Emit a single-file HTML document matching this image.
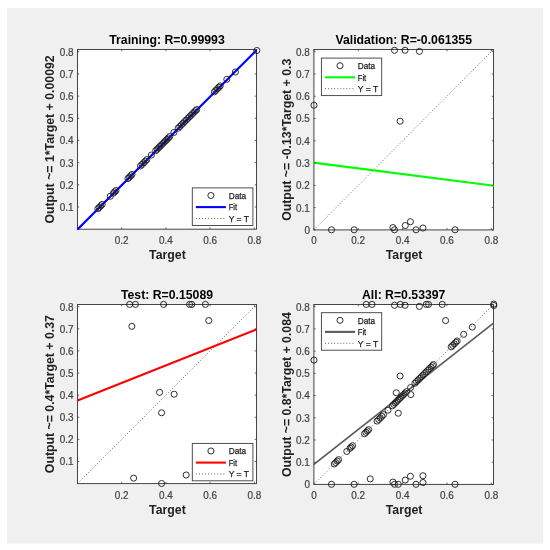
<!DOCTYPE html><html><head><meta charset="utf-8"><title>Regression</title><style>html,body{margin:0;padding:0;background:#fff}svg{display:block}text{font-family:"Liberation Sans",sans-serif}</style></head><body>
<svg width="550" height="550" viewBox="0 0 550 550">
<rect width="550" height="550" fill="#ffffff"/>
<rect x="7" y="8" width="536.2" height="535.7" fill="#f0f0f0"/>
<g id="train">
<rect x="77.5" y="49.5" width="179" height="179.7" fill="#fff"/>
<clipPath id="c0"><rect x="76.9" y="48.9" width="180.2" height="180.9"/></clipPath>
<line x1="77.5" y1="229.2" x2="256.5" y2="49.5" stroke="#666" stroke-width="1.0" stroke-dasharray="1.0 2.05"/>
<rect x="77.5" y="49.5" width="179" height="179.7" fill="none" stroke="#3c3c3c" stroke-width="0.95"/>
<line clip-path="url(#c0)" x1="76.9" y1="230.1" x2="257.1" y2="49.7" stroke="#0000ff" stroke-width="2.1"/>
<path d="M77.5 207.01h1.8M256.5 207.01h-1.8M77.5 184.83h1.8M256.5 184.83h-1.8M77.5 162.64h1.8M256.5 162.64h-1.8M77.5 140.46h1.8M256.5 140.46h-1.8M77.5 118.27h1.8M256.5 118.27h-1.8M77.5 96.09h1.8M256.5 96.09h-1.8M77.5 73.9h1.8M256.5 73.9h-1.8M77.5 51.72h1.8M256.5 51.72h-1.8M121.7 229.2v-1.8M121.7 49.5v1.8M165.9 229.2v-1.8M165.9 49.5v1.8M210.09 229.2v-1.8M210.09 49.5v1.8M254.29 229.2v-1.8M254.29 49.5v1.8" stroke="#3c3c3c" stroke-width="0.8" fill="none"/>
<g font-size="10.2" fill="#404040" stroke="#404040" stroke-width="0.2">
<text x="73.5" y="210.91" text-anchor="end" textLength="13.8" lengthAdjust="spacingAndGlyphs">0.1</text>
<text x="73.5" y="188.73" text-anchor="end" textLength="13.8" lengthAdjust="spacingAndGlyphs">0.2</text>
<text x="73.5" y="166.54" text-anchor="end" textLength="13.8" lengthAdjust="spacingAndGlyphs">0.3</text>
<text x="73.5" y="144.36" text-anchor="end" textLength="13.8" lengthAdjust="spacingAndGlyphs">0.4</text>
<text x="73.5" y="122.17" text-anchor="end" textLength="13.8" lengthAdjust="spacingAndGlyphs">0.5</text>
<text x="73.5" y="99.99" text-anchor="end" textLength="13.8" lengthAdjust="spacingAndGlyphs">0.6</text>
<text x="73.5" y="77.8" text-anchor="end" textLength="13.8" lengthAdjust="spacingAndGlyphs">0.7</text>
<text x="73.5" y="55.62" text-anchor="end" textLength="13.8" lengthAdjust="spacingAndGlyphs">0.8</text>
<text x="121.7" y="243.6" text-anchor="middle" textLength="13.8" lengthAdjust="spacingAndGlyphs">0.2</text>
<text x="165.9" y="243.6" text-anchor="middle" textLength="13.8" lengthAdjust="spacingAndGlyphs">0.4</text>
<text x="210.09" y="243.6" text-anchor="middle" textLength="13.8" lengthAdjust="spacingAndGlyphs">0.6</text>
<text x="254.29" y="243.6" text-anchor="middle" textLength="13.8" lengthAdjust="spacingAndGlyphs">0.8</text>
</g>
<g fill="none" stroke="#1a1a1a" stroke-width="0.9">
<circle cx="97.83" cy="208.79" r="3.05"/>
<circle cx="99.23" cy="207.39" r="3.05"/>
<circle cx="100.72" cy="205.89" r="3.05"/>
<circle cx="102.12" cy="204.49" r="3.05"/>
<circle cx="110.29" cy="196.28" r="3.05"/>
<circle cx="113.38" cy="193.18" r="3.05"/>
<circle cx="114.68" cy="191.88" r="3.05"/>
<circle cx="115.97" cy="190.58" r="3.05"/>
<circle cx="127.93" cy="178.57" r="3.05"/>
<circle cx="129.33" cy="177.17" r="3.05"/>
<circle cx="130.72" cy="175.77" r="3.05"/>
<circle cx="132.02" cy="174.47" r="3.05"/>
<circle cx="140.49" cy="165.96" r="3.05"/>
<circle cx="142.08" cy="164.36" r="3.05"/>
<circle cx="143.68" cy="162.76" r="3.05"/>
<circle cx="145.27" cy="161.16" r="3.05"/>
<circle cx="146.87" cy="159.56" r="3.05"/>
<circle cx="151.35" cy="155.06" r="3.05"/>
<circle cx="155.74" cy="150.66" r="3.05"/>
<circle cx="157.14" cy="149.25" r="3.05"/>
<circle cx="158.55" cy="147.83" r="3.05"/>
<circle cx="159.95" cy="146.42" r="3.05"/>
<circle cx="161.36" cy="145.01" r="3.05"/>
<circle cx="162.76" cy="143.6" r="3.05"/>
<circle cx="164.17" cy="142.19" r="3.05"/>
<circle cx="165.57" cy="140.78" r="3.05"/>
<circle cx="166.98" cy="139.37" r="3.05"/>
<circle cx="168.39" cy="137.96" r="3.05"/>
<circle cx="169.79" cy="136.55" r="3.05"/>
<circle cx="173.88" cy="132.45" r="3.05"/>
<circle cx="178.16" cy="128.14" r="3.05"/>
<circle cx="179.76" cy="126.54" r="3.05"/>
<circle cx="181.45" cy="124.84" r="3.05"/>
<circle cx="183.05" cy="123.24" r="3.05"/>
<circle cx="184.64" cy="121.64" r="3.05"/>
<circle cx="186.24" cy="120.04" r="3.05"/>
<circle cx="187.83" cy="118.44" r="3.05"/>
<circle cx="189.42" cy="116.84" r="3.05"/>
<circle cx="191.02" cy="115.24" r="3.05"/>
<circle cx="192.61" cy="113.64" r="3.05"/>
<circle cx="194.21" cy="112.03" r="3.05"/>
<circle cx="195.6" cy="110.63" r="3.05"/>
<circle cx="196.7" cy="109.53" r="3.05"/>
<circle cx="214.34" cy="91.82" r="3.05"/>
<circle cx="215.84" cy="90.32" r="3.05"/>
<circle cx="217.43" cy="88.72" r="3.05"/>
<circle cx="218.93" cy="87.22" r="3.05"/>
<circle cx="220.22" cy="85.92" r="3.05"/>
<circle cx="226.8" cy="79.32" r="3.05"/>
<circle cx="235.37" cy="72.04" r="3.05"/>
<circle cx="256.83" cy="50.5" r="3.05"/>
</g>
<text x="167" y="44.4" text-anchor="middle" font-size="12.25" font-weight="bold" fill="#000">Training: R=0.99993</text>
<text x="167.4" y="259.3" text-anchor="middle" font-size="12.3" font-weight="bold" fill="#222">Target</text>
<text transform="translate(54.2 139.45) rotate(-90)" text-anchor="middle" font-size="12.3" font-weight="bold" fill="#222">Output ~= 1*Target + 0.00092</text>
<rect x="192.3" y="187.9" width="60.6" height="37.6" fill="#fff" stroke="#3c3c3c" stroke-width="0.9"/>
<circle cx="210.9" cy="195.5" r="3.05" fill="none" stroke="#1a1a1a" stroke-width="0.9"/>
<line x1="195.9" y1="207.1" x2="225.9" y2="207.1" stroke="#0000ff" stroke-width="2.1"/>
<line x1="195.9" y1="218.5" x2="225.9" y2="218.5" stroke="#666" stroke-width="1.0" stroke-dasharray="1.0 2.05"/>
<g font-size="8.9" fill="#1c1c1c" stroke="#1c1c1c" stroke-width="0.25"><text x="228.7" y="198.7" textLength="17.4" lengthAdjust="spacingAndGlyphs">Data</text><text x="228.7" y="210.3" textLength="8.4" lengthAdjust="spacingAndGlyphs">Fit</text><text x="228.7" y="221.7" textLength="20.4" lengthAdjust="spacingAndGlyphs">Y = T</text></g>
</g>
<g id="val">
<rect x="313.9" y="49.5" width="179.6" height="180.4" fill="#fff"/>
<clipPath id="c1"><rect x="313.3" y="48.9" width="180.8" height="181.6"/></clipPath>
<line x1="313.9" y1="229.9" x2="493.5" y2="49.5" stroke="#666" stroke-width="1.0" stroke-dasharray="1.0 2.05"/>
<rect x="313.9" y="49.5" width="179.6" height="180.4" fill="none" stroke="#3c3c3c" stroke-width="0.95"/>
<line clip-path="url(#c1)" x1="313.3" y1="162.62" x2="494.1" y2="185.78" stroke="#00ff00" stroke-width="2.1"/>
<path d="M313.9 229.9h1.8M493.5 229.9h-1.8M313.9 207.63h1.8M493.5 207.63h-1.8M313.9 185.36h1.8M493.5 185.36h-1.8M313.9 163.09h1.8M493.5 163.09h-1.8M313.9 140.81h1.8M493.5 140.81h-1.8M313.9 118.54h1.8M493.5 118.54h-1.8M313.9 96.27h1.8M493.5 96.27h-1.8M313.9 74h1.8M493.5 74h-1.8M313.9 51.73h1.8M493.5 51.73h-1.8M313.9 229.9v-1.8M313.9 49.5v1.8M358.25 229.9v-1.8M358.25 49.5v1.8M402.59 229.9v-1.8M402.59 49.5v1.8M446.94 229.9v-1.8M446.94 49.5v1.8M491.28 229.9v-1.8M491.28 49.5v1.8" stroke="#3c3c3c" stroke-width="0.8" fill="none"/>
<g font-size="10.2" fill="#404040" stroke="#404040" stroke-width="0.2">
<text x="309.9" y="233.8" text-anchor="end" textLength="5.5" lengthAdjust="spacingAndGlyphs">0</text>
<text x="309.9" y="211.53" text-anchor="end" textLength="13.8" lengthAdjust="spacingAndGlyphs">0.1</text>
<text x="309.9" y="189.26" text-anchor="end" textLength="13.8" lengthAdjust="spacingAndGlyphs">0.2</text>
<text x="309.9" y="166.99" text-anchor="end" textLength="13.8" lengthAdjust="spacingAndGlyphs">0.3</text>
<text x="309.9" y="144.71" text-anchor="end" textLength="13.8" lengthAdjust="spacingAndGlyphs">0.4</text>
<text x="309.9" y="122.44" text-anchor="end" textLength="13.8" lengthAdjust="spacingAndGlyphs">0.5</text>
<text x="309.9" y="100.17" text-anchor="end" textLength="13.8" lengthAdjust="spacingAndGlyphs">0.6</text>
<text x="309.9" y="77.9" text-anchor="end" textLength="13.8" lengthAdjust="spacingAndGlyphs">0.7</text>
<text x="309.9" y="55.63" text-anchor="end" textLength="13.8" lengthAdjust="spacingAndGlyphs">0.8</text>
<text x="313.9" y="243.6" text-anchor="middle" textLength="5.5" lengthAdjust="spacingAndGlyphs">0</text>
<text x="358.25" y="243.6" text-anchor="middle" textLength="13.8" lengthAdjust="spacingAndGlyphs">0.2</text>
<text x="402.59" y="243.6" text-anchor="middle" textLength="13.8" lengthAdjust="spacingAndGlyphs">0.4</text>
<text x="446.94" y="243.6" text-anchor="middle" textLength="13.8" lengthAdjust="spacingAndGlyphs">0.6</text>
<text x="491.28" y="243.6" text-anchor="middle" textLength="13.8" lengthAdjust="spacingAndGlyphs">0.8</text>
</g>
<g fill="none" stroke="#1a1a1a" stroke-width="0.9">
<circle cx="314" cy="105.27" r="3.05"/>
<circle cx="394.51" cy="50.3" r="3.05"/>
<circle cx="405.05" cy="50.3" r="3.05"/>
<circle cx="419.4" cy="51.42" r="3.05"/>
<circle cx="400.11" cy="121.2" r="3.05"/>
<circle cx="331.49" cy="229.8" r="3.05"/>
<circle cx="354.14" cy="229.8" r="3.05"/>
<circle cx="392.94" cy="227.56" r="3.05"/>
<circle cx="394.51" cy="229.8" r="3.05"/>
<circle cx="405.27" cy="225.54" r="3.05"/>
<circle cx="410.43" cy="221.72" r="3.05"/>
<circle cx="416.03" cy="229.8" r="3.05"/>
<circle cx="422.99" cy="228.01" r="3.05"/>
<circle cx="455.05" cy="229.8" r="3.05"/>
</g>
<text x="403.7" y="44.4" text-anchor="middle" font-size="12.25" font-weight="bold" fill="#000">Validation: R=-0.061355</text>
<text x="404.1" y="259.3" text-anchor="middle" font-size="12.3" font-weight="bold" fill="#222">Target</text>
<text transform="translate(290.6 139.8) rotate(-90)" text-anchor="middle" font-size="12.3" font-weight="bold" fill="#222">Output ~= -0.13*Target + 0.3</text>
<rect x="321.4" y="58.1" width="60.3" height="37.5" fill="#fff" stroke="#3c3c3c" stroke-width="0.9"/>
<circle cx="340" cy="65.7" r="3.05" fill="none" stroke="#1a1a1a" stroke-width="0.9"/>
<line x1="325" y1="77.3" x2="355" y2="77.3" stroke="#00ff00" stroke-width="2.1"/>
<line x1="325" y1="88.7" x2="355" y2="88.7" stroke="#666" stroke-width="1.0" stroke-dasharray="1.0 2.05"/>
<g font-size="8.9" fill="#1c1c1c" stroke="#1c1c1c" stroke-width="0.25"><text x="357.8" y="68.9" textLength="17.4" lengthAdjust="spacingAndGlyphs">Data</text><text x="357.8" y="80.5" textLength="8.4" lengthAdjust="spacingAndGlyphs">Fit</text><text x="357.8" y="91.9" textLength="20.4" lengthAdjust="spacingAndGlyphs">Y = T</text></g>
</g>
<g id="test">
<rect x="77.5" y="304.5" width="179" height="179.1" fill="#fff"/>
<clipPath id="c2"><rect x="76.9" y="303.9" width="180.2" height="180.3"/></clipPath>
<line x1="77.5" y1="483.6" x2="256.5" y2="304.5" stroke="#666" stroke-width="1.0" stroke-dasharray="1.0 2.05"/>
<rect x="77.5" y="304.5" width="179" height="179.1" fill="none" stroke="#3c3c3c" stroke-width="0.95"/>
<line clip-path="url(#c2)" x1="76.9" y1="400.74" x2="257.1" y2="329.16" stroke="#ff0000" stroke-width="2.1"/>
<path d="M77.5 461.49h1.8M256.5 461.49h-1.8M77.5 439.38h1.8M256.5 439.38h-1.8M77.5 417.27h1.8M256.5 417.27h-1.8M77.5 395.16h1.8M256.5 395.16h-1.8M77.5 373.04h1.8M256.5 373.04h-1.8M77.5 350.93h1.8M256.5 350.93h-1.8M77.5 328.82h1.8M256.5 328.82h-1.8M77.5 306.71h1.8M256.5 306.71h-1.8M121.7 483.6v-1.8M121.7 304.5v1.8M165.9 483.6v-1.8M165.9 304.5v1.8M210.09 483.6v-1.8M210.09 304.5v1.8M254.29 483.6v-1.8M254.29 304.5v1.8" stroke="#3c3c3c" stroke-width="0.8" fill="none"/>
<g font-size="10.2" fill="#404040" stroke="#404040" stroke-width="0.2">
<text x="73.5" y="465.39" text-anchor="end" textLength="13.8" lengthAdjust="spacingAndGlyphs">0.1</text>
<text x="73.5" y="443.28" text-anchor="end" textLength="13.8" lengthAdjust="spacingAndGlyphs">0.2</text>
<text x="73.5" y="421.17" text-anchor="end" textLength="13.8" lengthAdjust="spacingAndGlyphs">0.3</text>
<text x="73.5" y="399.06" text-anchor="end" textLength="13.8" lengthAdjust="spacingAndGlyphs">0.4</text>
<text x="73.5" y="376.94" text-anchor="end" textLength="13.8" lengthAdjust="spacingAndGlyphs">0.5</text>
<text x="73.5" y="354.83" text-anchor="end" textLength="13.8" lengthAdjust="spacingAndGlyphs">0.6</text>
<text x="73.5" y="332.72" text-anchor="end" textLength="13.8" lengthAdjust="spacingAndGlyphs">0.7</text>
<text x="73.5" y="310.61" text-anchor="end" textLength="13.8" lengthAdjust="spacingAndGlyphs">0.8</text>
<text x="121.7" y="498.6" text-anchor="middle" textLength="13.8" lengthAdjust="spacingAndGlyphs">0.2</text>
<text x="165.9" y="498.6" text-anchor="middle" textLength="13.8" lengthAdjust="spacingAndGlyphs">0.4</text>
<text x="210.09" y="498.6" text-anchor="middle" textLength="13.8" lengthAdjust="spacingAndGlyphs">0.6</text>
<text x="254.29" y="498.6" text-anchor="middle" textLength="13.8" lengthAdjust="spacingAndGlyphs">0.8</text>
</g>
<g fill="none" stroke="#1a1a1a" stroke-width="0.9">
<circle cx="129.63" cy="304.4" r="3.05"/>
<circle cx="135.44" cy="304.4" r="3.05"/>
<circle cx="163.6" cy="304.4" r="3.05"/>
<circle cx="189.53" cy="304.4" r="3.05"/>
<circle cx="191.76" cy="304.4" r="3.05"/>
<circle cx="205.39" cy="304.4" r="3.05"/>
<circle cx="131.86" cy="326.34" r="3.05"/>
<circle cx="208.75" cy="320.52" r="3.05"/>
<circle cx="159.58" cy="392.38" r="3.05"/>
<circle cx="174.11" cy="394.17" r="3.05"/>
<circle cx="161.59" cy="412.76" r="3.05"/>
<circle cx="133.65" cy="478.13" r="3.05"/>
<circle cx="161.59" cy="483.5" r="3.05"/>
<circle cx="186.17" cy="474.99" r="3.05"/>
</g>
<text x="167" y="299.4" text-anchor="middle" font-size="12.25" font-weight="bold" fill="#000">Test: R=0.15089</text>
<text x="167.4" y="514.3" text-anchor="middle" font-size="12.3" font-weight="bold" fill="#222">Target</text>
<text transform="translate(54.2 394.15) rotate(-90)" text-anchor="middle" font-size="12.3" font-weight="bold" fill="#222">Output ~= 0.4*Target + 0.37</text>
<rect x="192.3" y="443.4" width="60.6" height="37.4" fill="#fff" stroke="#3c3c3c" stroke-width="0.9"/>
<circle cx="210.9" cy="451" r="3.05" fill="none" stroke="#1a1a1a" stroke-width="0.9"/>
<line x1="195.9" y1="462.6" x2="225.9" y2="462.6" stroke="#ff0000" stroke-width="2.1"/>
<line x1="195.9" y1="474" x2="225.9" y2="474" stroke="#666" stroke-width="1.0" stroke-dasharray="1.0 2.05"/>
<g font-size="8.9" fill="#1c1c1c" stroke="#1c1c1c" stroke-width="0.25"><text x="228.7" y="454.2" textLength="17.4" lengthAdjust="spacingAndGlyphs">Data</text><text x="228.7" y="465.8" textLength="8.4" lengthAdjust="spacingAndGlyphs">Fit</text><text x="228.7" y="477.2" textLength="20.4" lengthAdjust="spacingAndGlyphs">Y = T</text></g>
</g>
<g id="all">
<rect x="313.9" y="304.5" width="179.6" height="179.9" fill="#fff"/>
<clipPath id="c3"><rect x="313.3" y="303.9" width="180.8" height="181.1"/></clipPath>
<line x1="313.9" y1="484.4" x2="493.5" y2="304.5" stroke="#666" stroke-width="1.0" stroke-dasharray="1.0 2.05"/>
<rect x="313.9" y="304.5" width="179.6" height="179.9" fill="none" stroke="#3c3c3c" stroke-width="0.95"/>
<line clip-path="url(#c3)" x1="313.3" y1="464.87" x2="494.1" y2="322.73" stroke="#5a5a5a" stroke-width="1.6"/>
<path d="M313.9 484.4h1.8M493.5 484.4h-1.8M313.9 462.19h1.8M493.5 462.19h-1.8M313.9 439.98h1.8M493.5 439.98h-1.8M313.9 417.77h1.8M493.5 417.77h-1.8M313.9 395.56h1.8M493.5 395.56h-1.8M313.9 373.35h1.8M493.5 373.35h-1.8M313.9 351.14h1.8M493.5 351.14h-1.8M313.9 328.93h1.8M493.5 328.93h-1.8M313.9 306.72h1.8M493.5 306.72h-1.8M313.9 484.4v-1.8M313.9 304.5v1.8M358.25 484.4v-1.8M358.25 304.5v1.8M402.59 484.4v-1.8M402.59 304.5v1.8M446.94 484.4v-1.8M446.94 304.5v1.8M491.28 484.4v-1.8M491.28 304.5v1.8" stroke="#3c3c3c" stroke-width="0.8" fill="none"/>
<g font-size="10.2" fill="#404040" stroke="#404040" stroke-width="0.2">
<text x="309.9" y="488.3" text-anchor="end" textLength="5.5" lengthAdjust="spacingAndGlyphs">0</text>
<text x="309.9" y="466.09" text-anchor="end" textLength="13.8" lengthAdjust="spacingAndGlyphs">0.1</text>
<text x="309.9" y="443.88" text-anchor="end" textLength="13.8" lengthAdjust="spacingAndGlyphs">0.2</text>
<text x="309.9" y="421.67" text-anchor="end" textLength="13.8" lengthAdjust="spacingAndGlyphs">0.3</text>
<text x="309.9" y="399.46" text-anchor="end" textLength="13.8" lengthAdjust="spacingAndGlyphs">0.4</text>
<text x="309.9" y="377.25" text-anchor="end" textLength="13.8" lengthAdjust="spacingAndGlyphs">0.5</text>
<text x="309.9" y="355.04" text-anchor="end" textLength="13.8" lengthAdjust="spacingAndGlyphs">0.6</text>
<text x="309.9" y="332.83" text-anchor="end" textLength="13.8" lengthAdjust="spacingAndGlyphs">0.7</text>
<text x="309.9" y="310.62" text-anchor="end" textLength="13.8" lengthAdjust="spacingAndGlyphs">0.8</text>
<text x="313.9" y="498.6" text-anchor="middle" textLength="5.5" lengthAdjust="spacingAndGlyphs">0</text>
<text x="358.25" y="498.6" text-anchor="middle" textLength="13.8" lengthAdjust="spacingAndGlyphs">0.2</text>
<text x="402.59" y="498.6" text-anchor="middle" textLength="13.8" lengthAdjust="spacingAndGlyphs">0.4</text>
<text x="446.94" y="498.6" text-anchor="middle" textLength="13.8" lengthAdjust="spacingAndGlyphs">0.6</text>
<text x="491.28" y="498.6" text-anchor="middle" textLength="13.8" lengthAdjust="spacingAndGlyphs">0.8</text>
</g>
<g fill="none" stroke="#1a1a1a" stroke-width="0.9">
<circle cx="334.3" cy="463.97" r="3.05"/>
<circle cx="335.7" cy="462.56" r="3.05"/>
<circle cx="337.2" cy="461.06" r="3.05"/>
<circle cx="338.6" cy="459.66" r="3.05"/>
<circle cx="346.8" cy="451.45" r="3.05"/>
<circle cx="349.9" cy="448.34" r="3.05"/>
<circle cx="351.2" cy="447.04" r="3.05"/>
<circle cx="352.5" cy="445.74" r="3.05"/>
<circle cx="364.5" cy="433.72" r="3.05"/>
<circle cx="365.9" cy="432.31" r="3.05"/>
<circle cx="367.3" cy="430.91" r="3.05"/>
<circle cx="368.6" cy="429.61" r="3.05"/>
<circle cx="377.1" cy="421.09" r="3.05"/>
<circle cx="378.7" cy="419.49" r="3.05"/>
<circle cx="380.3" cy="417.89" r="3.05"/>
<circle cx="381.9" cy="416.29" r="3.05"/>
<circle cx="383.5" cy="414.68" r="3.05"/>
<circle cx="388" cy="410.18" r="3.05"/>
<circle cx="392.4" cy="405.77" r="3.05"/>
<circle cx="393.81" cy="404.36" r="3.05"/>
<circle cx="395.22" cy="402.94" r="3.05"/>
<circle cx="396.63" cy="401.53" r="3.05"/>
<circle cx="398.04" cy="400.12" r="3.05"/>
<circle cx="399.45" cy="398.71" r="3.05"/>
<circle cx="400.86" cy="397.29" r="3.05"/>
<circle cx="402.27" cy="395.88" r="3.05"/>
<circle cx="403.68" cy="394.47" r="3.05"/>
<circle cx="405.09" cy="393.06" r="3.05"/>
<circle cx="406.5" cy="391.65" r="3.05"/>
<circle cx="410.6" cy="387.54" r="3.05"/>
<circle cx="414.9" cy="383.23" r="3.05"/>
<circle cx="416.5" cy="381.63" r="3.05"/>
<circle cx="418.2" cy="379.93" r="3.05"/>
<circle cx="419.8" cy="378.32" r="3.05"/>
<circle cx="421.4" cy="376.72" r="3.05"/>
<circle cx="423" cy="375.12" r="3.05"/>
<circle cx="424.6" cy="373.52" r="3.05"/>
<circle cx="426.2" cy="371.91" r="3.05"/>
<circle cx="427.8" cy="370.31" r="3.05"/>
<circle cx="429.4" cy="368.71" r="3.05"/>
<circle cx="431" cy="367.1" r="3.05"/>
<circle cx="432.4" cy="365.7" r="3.05"/>
<circle cx="433.5" cy="364.6" r="3.05"/>
<circle cx="451.2" cy="346.87" r="3.05"/>
<circle cx="452.7" cy="345.37" r="3.05"/>
<circle cx="454.3" cy="343.77" r="3.05"/>
<circle cx="455.8" cy="342.26" r="3.05"/>
<circle cx="457.1" cy="340.96" r="3.05"/>
<circle cx="463.7" cy="334.35" r="3.05"/>
<circle cx="472.3" cy="327.07" r="3.05"/>
<circle cx="493.83" cy="305.5" r="3.05"/>
<circle cx="314" cy="360.12" r="3.05"/>
<circle cx="394.51" cy="305.3" r="3.05"/>
<circle cx="405.05" cy="305.3" r="3.05"/>
<circle cx="419.4" cy="306.42" r="3.05"/>
<circle cx="400.11" cy="376" r="3.05"/>
<circle cx="331.49" cy="484.3" r="3.05"/>
<circle cx="354.14" cy="484.3" r="3.05"/>
<circle cx="392.94" cy="482.06" r="3.05"/>
<circle cx="394.51" cy="484.3" r="3.05"/>
<circle cx="405.27" cy="480.05" r="3.05"/>
<circle cx="410.43" cy="476.25" r="3.05"/>
<circle cx="416.03" cy="484.3" r="3.05"/>
<circle cx="422.99" cy="482.51" r="3.05"/>
<circle cx="455.05" cy="484.3" r="3.05"/>
<circle cx="366.2" cy="304.4" r="3.05"/>
<circle cx="372.03" cy="304.4" r="3.05"/>
<circle cx="400.29" cy="304.4" r="3.05"/>
<circle cx="426.3" cy="304.4" r="3.05"/>
<circle cx="428.54" cy="304.4" r="3.05"/>
<circle cx="442.22" cy="304.4" r="3.05"/>
<circle cx="368.45" cy="326.44" r="3.05"/>
<circle cx="445.59" cy="320.59" r="3.05"/>
<circle cx="396.25" cy="392.78" r="3.05"/>
<circle cx="410.83" cy="394.57" r="3.05"/>
<circle cx="398.27" cy="413.24" r="3.05"/>
<circle cx="370.24" cy="478.9" r="3.05"/>
<circle cx="398.27" cy="484.3" r="3.05"/>
<circle cx="422.94" cy="475.75" r="3.05"/>
<circle cx="493.77" cy="304.1" r="3.05"/>
</g>
<text x="403.7" y="299.4" text-anchor="middle" font-size="12.25" font-weight="bold" fill="#000">All: R=0.53397</text>
<text x="404.1" y="514.3" text-anchor="middle" font-size="12.3" font-weight="bold" fill="#222">Target</text>
<text transform="translate(290.6 394.55) rotate(-90)" text-anchor="middle" font-size="12.3" font-weight="bold" fill="#222">Output ~= 0.8*Target + 0.084</text>
<rect x="321.4" y="312.7" width="60.3" height="37.5" fill="#fff" stroke="#3c3c3c" stroke-width="0.9"/>
<circle cx="340" cy="320.3" r="3.05" fill="none" stroke="#1a1a1a" stroke-width="0.9"/>
<line x1="325" y1="331.9" x2="355" y2="331.9" stroke="#5a5a5a" stroke-width="2.1"/>
<line x1="325" y1="343.3" x2="355" y2="343.3" stroke="#666" stroke-width="1.0" stroke-dasharray="1.0 2.05"/>
<g font-size="8.9" fill="#1c1c1c" stroke="#1c1c1c" stroke-width="0.25"><text x="357.8" y="323.5" textLength="17.4" lengthAdjust="spacingAndGlyphs">Data</text><text x="357.8" y="335.1" textLength="8.4" lengthAdjust="spacingAndGlyphs">Fit</text><text x="357.8" y="346.5" textLength="20.4" lengthAdjust="spacingAndGlyphs">Y = T</text></g>
</g>
</svg></body></html>
